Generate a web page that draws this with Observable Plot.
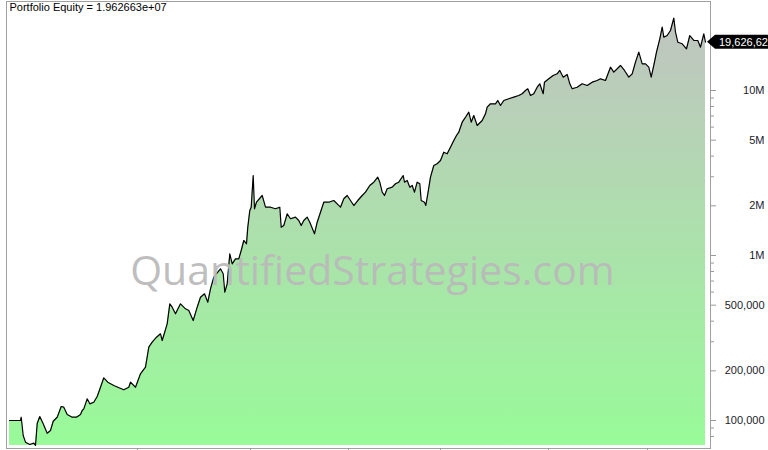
<!DOCTYPE html>
<html>
<head>
<meta charset="utf-8">
<script src="https://cdn.jsdelivr.net/npm/d3@7"></script>
<script src="https://cdn.jsdelivr.net/npm/@observablehq/plot@0.6"></script>
<style>
  html, body { margin: 0; padding: 0; background: #fff; }
</style>
</head>
<body>
<div id="chart"></div>
<script>
// bar index (time) of each reading
const bars = [
  0, 11, 11.7, 13.7, 16, 20.3, 24.3, 26, 27.7, 30.3,
  33.7, 37.7, 41, 43.7, 47.7, 51.7, 54.3, 57.7, 62.7, 67,
  71, 72.7, 74.3, 77.7, 80.3, 84.3, 87.7, 91, 94.3, 98.3,
  104.3, 108.3, 114.3, 119.3, 121, 126, 131, 136, 139.3, 142.7,
  147, 151, 152.7, 157.7, 160.3, 162.7, 166, 171, 176, 179.3,
  183.7, 187.7, 191, 195, 198.3, 201, 204.3, 208.3, 211, 213.7,
  215.3, 217.7, 220.3, 222.7, 226, 229.3, 231.7, 234.3, 237, 238.3,
  240.3, 241.7, 243.7, 245, 247, 252.7, 256, 261, 266, 270.3,
  271.7, 274.3, 277.7, 281, 286, 289.3, 291.7, 294.3, 297.7, 300.3,
  305, 307.7, 311, 314.3, 319.3, 324.3, 327.7, 331, 334.3, 337.7,
  341, 344.3, 348.3, 352.7, 356, 360.3, 364.3, 368.3, 370.3, 372.7,
  375, 377.7, 382.7, 386, 389.3, 393.7, 395, 397.7, 400.3, 402.7,
  405, 407.7, 410.3, 411.7, 415, 416.3, 418.3, 421, 424.3, 427.7,
  431, 434.3, 437.7, 441, 444.3, 447, 449.3, 452.7, 456, 459.3,
  461.7, 464.3, 467.7, 472.7, 476, 477.7, 481, 486, 488.3, 491,
  494.3, 499.3, 504.3, 509.3, 512.7, 516, 518.3, 521, 524.3, 527.7,
  530.3, 533.7, 535, 539.3, 543.7, 547.7, 550.3, 553.7, 557.7, 560.3,
  562.7, 567.7, 572.7, 577.7, 582.7, 587.7, 591, 596, 601, 604.3,
  611, 615, 619.3, 622.7, 626, 629.3, 632.7, 636, 639.3, 641.7,
  644.3, 647, 650.3, 652.7, 654.3, 657.7, 661, 664.3, 666, 668.3,
  672.7, 677, 680.3, 684.3, 688.3, 691, 694.3, 696
];
// portfolio equity at each reading
const equity = [
  100000, 100000, 104700, 81100, 73900, 71500, 72900, 70600, 95900, 105700,
  95500, 83800, 87000, 99000, 104700, 121600, 120400, 108700, 104700, 104700,
  108700, 115000, 117700, 135300, 126200, 129100, 139800, 159100, 181500, 170700,
  163000, 159100, 153500, 159100, 170700, 159100, 191900, 210400, 278200, 298300,
  319800, 335400, 305300, 385500, 509600, 486100, 443300, 509600, 475300, 464200,
  403500, 486100, 558900, 586000, 521200, 628300, 738800, 792200, 830700, 774700,
  599300, 673700, 1024000, 890600, 955000, 955000, 1072000, 1233000, 1177000, 1485000,
  1874000, 1962000, 3053000, 1919000, 2104000, 2310000, 1962000, 1962000, 1919000, 1962000,
  1485000, 1520000, 1789000, 1669000, 1707000, 1629000, 1520000, 1629000, 1707000, 1591000,
  1354000, 1591000, 1830000, 2104000, 2104000, 2154000, 2057000, 1962000, 2206000, 2310000,
  2154000, 2009000, 2154000, 2310000, 2419000, 2657000, 2782000, 2983000, 2782000, 2419000,
  2310000, 2537000, 2594000, 2720000, 2782000, 3053000, 2782000, 2848000, 2594000, 2657000,
  2419000, 2782000, 2720000, 2154000, 2104000, 2009000, 2365000, 2983000, 3512000, 3596000,
  3765000, 4227000, 4134000, 4534000, 4977000, 5337000, 5589000, 6426000, 6888000, 7388000,
  6426000, 7055000, 6137000, 6579000, 7225000, 7922000, 8307000, 8307000, 8698000, 8111000,
  8698000, 8906000, 9107000, 9327000, 9550000, 10000000, 10240000, 9327000, 9550000, 10470000,
  10980000, 9550000, 11230000, 11770000, 12330000, 12620000, 13220000, 12040000, 12500000, 10980000,
  10240000, 10470000, 10980000, 10720000, 11230000, 11500000, 11770000, 11500000, 13840000, 12910000,
  14180000, 13220000, 12040000, 12620000, 14850000, 17070000, 14510000, 14510000, 13840000, 12040000,
  14180000, 17070000, 20570000, 24190000, 21040000, 21540000, 23100000, 27430000, 22560000, 19620000,
  19190000, 17890000, 21540000, 20090000, 20090000, 18300000, 22060000, 19626628
];
const xTicks = [128, 241, 339, 431, 539, 638];
const yTicks = [1e5, 2e5, 5e5, 1e6, 2e6, 5e6, 1e7];
const yMinor = [8e4, 9e4, 3e5, 4e5, 6e5, 7e5, 8e5, 9e5, 3e6, 4e6, 6e6, 7e6, 8e6, 9e6];
const titleText = "Portfolio Equity = 1.962663e+07";
const watermark = "QuantifiedStrategies.com";

const data = bars.map((t, i) => ({t, v: equity[i]}));
const last = data[data.length - 1];
const base = d3.min(equity);
const fmtY = v => v >= 1e6 ? (v / 1e6) + "M" : d3.format(",")(v);
const font = "'Liberation Sans', Arial, sans-serif";

function gradientDefs() {
  const g = d3.create("svg:g");
  const lg = g.append("defs").append("linearGradient")
    .attr("id", "eqgrad").attr("gradientUnits", "userSpaceOnUse")
    .attr("x1", 0).attr("x2", 0).attr("y1", 1).attr("y2", 448);
  lg.append("stop").attr("offset", "0%").attr("stop-color", "#c2c2c2");
  lg.append("stop").attr("offset", "100%").attr("stop-color", "#98fb98");
  return g.node();
}

function lastValueTag(index, scales, values, dimensions) {
  const y = scales.y(last.v);
  const x0 = dimensions.width - dimensions.marginRight;
  const g = d3.create("svg:g");
  g.append("path")
    .attr("d", `M${x0 - 3},${y} L${x0 + 5},${y - 7} L${dimensions.width},${y - 7} L${dimensions.width},${y + 7} L${x0 + 5},${y + 7} Z`)
    .attr("fill", "#000");
  g.append("text")
    .attr("x", x0 + 9).attr("y", y).attr("dy", "0.35em")
    .attr("text-anchor", "start")
    .attr("fill", "#fff").attr("font-size", 11).attr("font-family", font)
    .text(d3.format(",")(Math.round(last.v)));
  return g.node();
}

const chart = Plot.plot({
  width: 768,
  height: 450,
  marginLeft: 6,
  marginRight: 58,
  marginTop: 1,
  marginBottom: 2,
  x: {domain: [-3, 701], label: null},
  y: {type: "log", domain: [67660, 34620000], label: null},
  style: {background: "#fff", fontFamily: font, fontSize: "11px"},
  marks: [
    gradientDefs,
    Plot.areaY(data, {x: "t", y1: base, y2: "v", fill: "url(#eqgrad)", curve: "linear"}),
    Plot.lineY(data, {x: "t", y: "v", stroke: "#000", strokeWidth: 1.2}),
    Plot.text([watermark], {frameAnchor: "middle", dx: 14, dy: 47, fontSize: 41, fontFamily: "'Open Sans', sans-serif", fill: "#bababa", fillOpacity: 0.95}),
    Plot.frame({stroke: "#a0a0a0"}),
    Plot.axisY({anchor: "right", ticks: yMinor, tickSize: 3, text: null, stroke: "#999", label: null}),
    Plot.axisY({anchor: "right", ticks: yTicks, tickSize: 5, text: null, stroke: "#999", label: null}),
    Plot.text(yTicks, {y: d => d, text: fmtY, frameAnchor: "right", dx: 54, textAnchor: "end", fill: "#1c1c2a", fontSize: 11}),
    Plot.axisX({anchor: "bottom", ticks: xTicks, tickSize: 3, text: null, stroke: "#999", label: null}),
    Plot.text([titleText], {frameAnchor: "top-left", dx: 3, dy: 2, textAnchor: "start", lineAnchor: "top", fontSize: 11, fill: "#000"}),
    lastValueTag
  ]
});
document.getElementById("chart").appendChild(chart);
</script>
</body>
</html>
